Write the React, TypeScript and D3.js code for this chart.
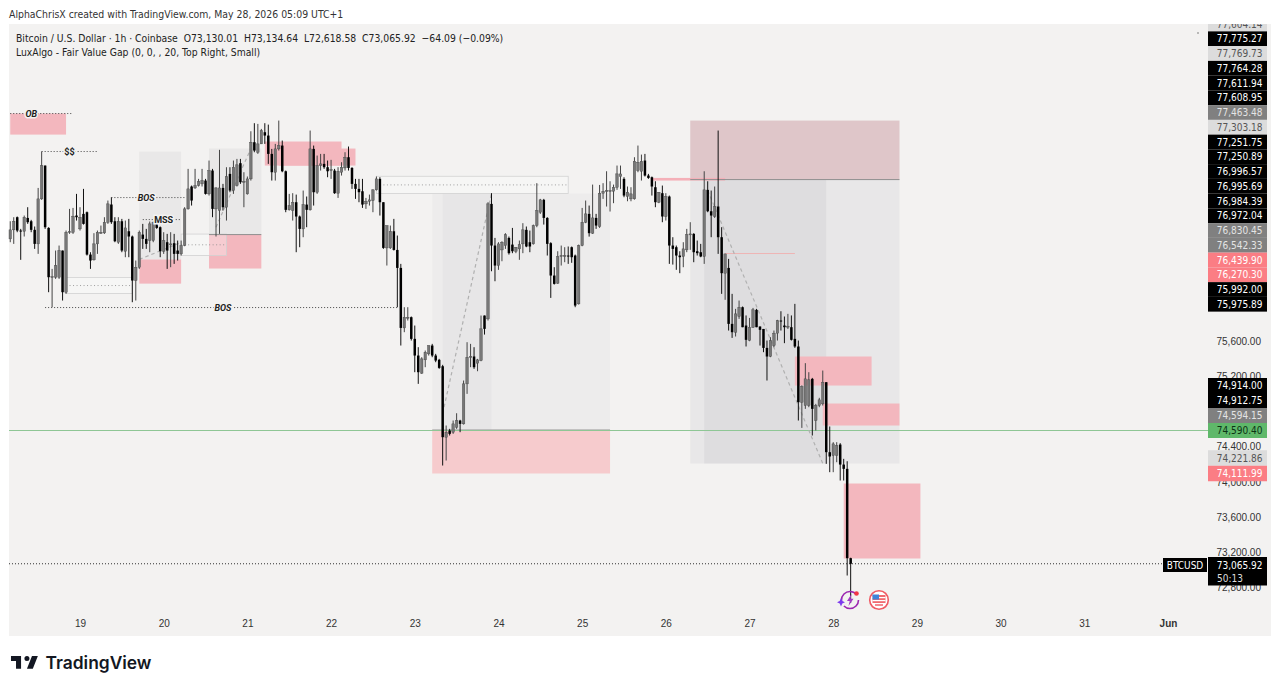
import * as d3 from 'd3'
import { useEffect, useRef } from 'react'

// hourly BTCUSD candles, first bar May 18 04:00
const opens = [
  76770,76873,77017,76865,76857,77009,76971,76873,76713,77226,
  77606,76895,76333,76333,76333,76637,76162,76846,76846,77036,
  76884,77055,77074,76591,76531,76713,76838,76838,76960,77162,
  76971,76732,76971,76629,76857,76797,76295,76447,76819,76770,
  76751,76751,76968,76903,76629,76732,76705,76721,76637,76599,
  76694,77112,77367,77351,77378,77397,77435,77283,77549,77112,
  77093,77351,77131,77511,77321,77378,77633,77416,77283,77454,
  77872,77758,77853,77986,77948,77739,77530,77796,77834,77541,
  77101,77093,77188,77025,76884,77161,77101,77796,77302,77606,
  77625,77587,77549,77549,77291,77530,77579,77701,77579,77397,
  77340,77313,77169,77199,77207,77329,77454,77188,76667,76667,
  76857,76644,76439,75755,75869,75877,75630,75440,75239,75391,
  75459,75554,75440,75391,75318,74509,74585,74566,74623,74699,
  74661,75117,75421,75429,75353,75383,75896,75858,77169,76694,
  76466,76644,76694,76781,76705,76629,76656,76713,76873,76732,
  76713,76922,77074,77215,77009,76721,76352,76265,76569,76569,
  76580,76675,76580,76029,76694,76960,77055,76835,77009,76911,
  77291,77313,77313,77313,77359,77481,77454,77253,77226,77226,
  77549,77541,77663,77492,77473,77359,77188,77291,77025,77253,
  76694,76675,76580,76569,76645,76819,76827,76629,76618,76569,
  77329,77085,77025,77139,76789,76379,76439,75801,75706,75885,
  75991,75782,75611,75763,75961,75771,75743,75527,75429,75554,
  75695,75839,75782,75771,75763,75630,75543,74908,74870,74870,
  75174,74699,74870,74889,75136,74338,74300,74300,74425,74197,
  74148,73130.01,
]
const highs = [
  76971,77017,77025,76884,77036,77131,76987,76911,77351,77766,
  77606,76903,76428,76637,76694,76637,76865,77112,77123,77283,
  77131,77340,77082,76618,76835,76865,76922,77017,77207,77245,
  77017,77017,76998,76979,76998,76808,76523,76865,76941,76884,
  76968,76968,77036,76911,76846,76827,76846,76827,76751,76751,
  77131,77568,77378,77568,77454,77568,77454,77663,77568,77359,
  77785,77397,77587,77587,77663,77682,77682,77530,77481,77997,
  78089,78081,78024,78089,78073,77796,77853,78119,77891,77549,
  77283,77291,77275,77036,77321,77253,78005,77834,77720,77739,
  77739,77663,77671,77568,77587,77644,77758,77823,77587,77454,
  77454,77454,77237,77275,77336,77481,77473,77188,76922,76922,
  76998,76808,76485,75991,75991,75885,75782,75535,75421,75497,
  75554,75573,75459,75402,75334,74642,74604,74699,74782,74707,
  75155,75592,75573,75535,75402,75896,75896,77188,77291,76781,
  76732,76743,76835,76797,76895,76675,76751,76949,76911,76865,
  76933,77405,77226,77226,77017,76732,76447,76629,76694,76675,
  76683,76683,76591,76705,77123,77207,77150,77389,77055,77385,
  77405,77541,77427,77389,77606,77606,77473,77367,77359,77701,
  77834,77731,77739,77511,77481,77427,77302,77378,77291,77264,
  76789,76694,76629,76732,76884,76960,76835,76751,76713,77541,
  77427,77321,77367,78005,76903,76599,76542,76143,75972,76067,
  75999,75897,75869,75983,75972,75771,75743,75611,75649,75725,
  75847,75945,75885,75915,75897,76029,75611,75100,75353,75250,
  75185,74889,74958,75269,75136,74631,74452,74452,74441,74262,
  74235,73134.64,
]
const lows = [
  76732,76713,76846,76531,76797,76941,76846,76656,76599,77215,
  76884,76162,75991,76314,76314,76067,76143,76827,76827,76979,
  76865,76933,76580,76428,76523,76599,76827,76827,76941,76941,
  76732,76713,76618,76561,76561,76048,76067,76428,76656,76656,
  76618,76732,76884,76561,76599,76428,76447,76485,76523,76580,
  76686,77104,77150,77340,77367,77367,77275,77264,77017,76797,
  76827,77093,76979,77302,77283,77367,77397,77131,77275,77435,
  77758,77739,77853,77853,77625,77435,77435,77777,77530,77074,
  77093,76979,76618,76675,76789,76903,77093,77150,77283,77549,
  77568,77473,77454,77283,77237,77492,77549,77549,77340,77226,
  77188,77123,77112,77150,77074,77321,77036,76656,76466,76656,
  76637,75991,75554,75706,75839,75611,75250,75117,75231,75307,
  75440,75421,75364,75288,74186,74243,74528,74547,74604,74566,
  74653,75003,75307,75288,75261,75375,75679,75839,76401,76287,
  76417,76515,76656,76591,76607,76607,76531,76607,76675,76618,
  76705,76903,77055,76933,76580,76097,76249,76257,76466,76504,
  76485,76497,75991,76021,76686,76949,76796,76827,76884,76895,
  77226,77139,77082,77177,77329,77340,77245,77199,77199,77218,
  77530,77435,77481,77454,77264,77131,77177,76960,76979,76485,
  76477,76417,76379,76447,76618,76645,76504,76580,76561,76485,
  77074,76789,77009,76599,76143,76075,75725,75641,75657,75858,
  75763,75543,75603,75755,75763,75554,75478,75155,75421,75535,
  75611,75725,75581,75743,75611,75527,74699,74615,74832,74851,
  74528,74585,74851,74870,74205,74110,74110,74224,74015,74015,
  72932,72618.58,
]
const closes = [
  76873,76971,76865,76857,77017,76960,76873,76713,77226,77606,
  76903,76333,76340,76466,76637,76162,76846,76854,77029,77017,
  77017,76941,76591,76523,76713,76846,76846,76960,77169,76960,
  76743,76971,76637,76895,76797,76295,76447,76846,76770,76713,
  76941,76960,76895,76629,76751,76637,76713,76599,76599,76694,
  77112,77340,77207,77378,77424,77435,77283,77549,77112,77351,
  77351,77131,77481,77321,77587,77614,77416,77427,77454,77872,
  77777,77853,78005,77948,77739,77530,77796,77834,77541,77101,
  77150,77188,77025,76884,77161,77101,77796,77302,77606,77625,
  77587,77541,77560,77291,77541,77587,77701,77579,77397,77340,
  77302,77161,77199,77215,77329,77454,77188,76667,76922,76857,
  76644,76439,75755,75877,75877,75630,75440,75250,75402,75478,
  75554,75440,75383,75299,74509,74566,74547,74661,74699,74661,
  75117,75421,75429,75307,75391,75744,75744,77169,76694,76466,
  76713,76732,76819,76607,76629,76675,76705,76873,76683,76683,
  76922,77093,77215,77009,76713,76352,76257,76569,76580,76580,
  76569,76561,76010,76694,76960,77055,76835,77009,76922,77291,
  77313,77321,77321,77359,77511,77511,77264,77302,77283,77655,
  77644,77655,77492,77465,77367,77188,77302,77025,77253,76694,
  76656,76580,76561,76656,76819,76827,76618,76607,76569,77329,
  77085,77036,77139,76789,76379,76599,75801,75706,75915,75991,
  75763,75619,75763,75961,75763,75733,75527,75429,75611,75695,
  75839,75830,75763,75775,75619,75543,74908,75087,75174,75163,
  74832,74870,74935,75136,74338,74289,74433,74414,74197,74148,
  73130,73065.92,
]

// drawings, all as [start hour, end hour, top price, bottom price], hours counted from May 19 00:00
const pinkZones = [
  [-20, -3.7, 78199, 77959],
  [17.2, 29.2, 76535, 76260],
  [37, 52, 76819, 76432],
  [53, 75.4, 77880, 77606],
  [57.4, 79.2, 77800, 77606],
  [205.6, 227.4, 75429, 75098],
  [213, 235, 74893, 74642],
  [219.4, 241.3, 73981, 73126],
]
const fadedPinkZones = [[101, 152.3, 74585, 74095]]
const thinPinkZones = [[164, 185.5, 77465, 77435]]
const targetZones = [[175, 235, 78119, 77446]]
const leftGreyZones = [
  [17.2, 29.2, 77765, 76535],
  [37, 52, 77800, 76819],
]
const wideGreyZones = [
  [101, 118.1, 77287, 74585],
  [104.2, 152.3, 77287, 74585],
]
const rightGreyZones = [
  [175, 214.2, 77446, 74209],
  [179, 235, 77446, 74209],
]
const outlineBoxes = [
  [-3.7, 15.2, 76329, 76147],
  [29.2, 42.4, 76825, 76580],
  [85, 140, 77484, 77287],
]
const trendLines = [
  [104.7, 74779, 118.1, 77287],
  [180.1, 77321, 213.6, 74209],
  [17.8, 76536, 29.2, 76730],
  [39.3, 76903, 49.3, 77800],
]
const solidLevels = [
  [175, 235, 77446],
  [37, 52, 76819],
  [101, 152.3, 74590.4],
]
const pinkLevels = [[185.5, 205.6, 76603]]
const dottedLevels = [
  [-20, -1.7, 78199],
  [-10.9, 5.4, 77766],
  [9.2, 30.4, 77241],
  [18, 29.6, 76990],
  [-10, 91.2, 75987],
]
const swingLabels = ['OB', '$$', 'BOS', 'MSS', 'BOS']
const swingLabelHours = [-13.5, -2.6, 19.5, 24, 41.6]
const swingLabelPrices = [78199, 77766, 77241, 76990, 75987]
const swingLabelItalic = [true, false, true, false, true]

const priceTicks = [75600, 75200, 74400, 74000, 73600, 73200, 72800]
const dayTicks = [19, 20, 21, 22, 23, 24, 25, 26, 27, 28, 29, 30, 31, 32]

const upperTags = [
  ['77,604.14', 'light'], ['77,775.27', 'black'], ['77,769.73', 'light'], ['77,764.28', 'black'],
  ['77,611.94', 'black'], ['77,608.95', 'black'], ['77,463.48', 'gray'], ['77,303.18', 'light'],
  ['77,251.75', 'black'], ['77,250.89', 'black'], ['76,996.57', 'black'], ['76,995.69', 'black'],
  ['76,984.39', 'black'], ['76,972.04', 'black'], ['76,830.45', 'gray'], ['76,542.33', 'gray'],
  ['76,439.90', 'pink'], ['76,270.30', 'pink'], ['75,992.00', 'black'], ['75,975.89', 'black'],
]
const middleTags = [
  ['74,914.00', 'black'], ['74,912.75', 'black'], ['74,594.15', 'gray'], ['74,590.40', 'green'],
]
const lowerTags = [
  ['74,221.86', 'light'], ['74,111.99', 'pink'],
]
const lastPrice = 73065.92

const tagColors = {
  black: ['#000000', '#ffffff'],
  gray: ['#808080', '#e4e4e4'],
  light: ['#dcdcdc', '#555555'],
  pink: ['#fb7d84', '#ffffff'],
  green: ['#5fb86a', '#0c3315'],
}

const WIDTH = 1280
const HEIGHT = 689
const uiFont = '"DejaVu Sans", sans-serif'

const x = d3.scaleTime(
  [new Date(2026, 4, 19), new Date(2026, 5, 1)],
  [80, 1168]
)
const y = d3.scaleLinear([73200, 75600], [552, 341.5])
const hx = (h: number) => x(d3.timeHour.offset(new Date(2026, 4, 19), h))

function Zones({ list, fill }: { list: number[][]; fill: string }) {
  return (
    <g fill={fill}>
      {list.map(([a, b, top, bottom], i) => (
        <rect key={i} x={hx(a)} y={y(top)} width={hx(b) - hx(a)} height={y(bottom) - y(top)} />
      ))}
    </g>
  )
}

function TagStack({ tags, start, step }: { tags: string[][]; start: number; step: number }) {
  return (
    <g>
      {tags.map(([label, kind], i) => {
        const [bg, fg] = tagColors[kind]
        const cy = start + i * step
        return (
          <g key={label}>
            <rect x={1208} y={cy - step / 2} width={59} height={step} fill={bg} />
            <text x={1262.5} y={cy + 3.7} fill={fg} textAnchor="end">{label}</text>
          </g>
        )
      })}
    </g>
  )
}

export default function App() {
  const gx = useRef<SVGGElement>(null)
  const gy = useRef<SVGGElement>(null)

  useEffect(() => {
    const xAxis = d3
      .axisBottom(x)
      .tickValues(dayTicks.map((d) => new Date(2026, 4, d)))
      .tickSize(0)
      .tickFormat((d: Date) => (d.getMonth() === 5 ? 'Jun' : String(d.getDate())))
    d3.select(gx.current).call(xAxis).call((g) => g.select('.domain').remove())
    d3.select(gx.current)
      .selectAll('text')
      .attr('fill', '#333')
      .attr('font-weight', (_, i) => (i === dayTicks.length - 1 ? 600 : 400))

    const yAxis = d3
      .axisRight(y)
      .tickValues(priceTicks)
      .tickSize(0)
      .tickFormat((d: number) => d3.format(',.2f')(d))
    d3.select(gy.current).call(yAxis).call((g) => g.select('.domain').remove())
    d3.select(gy.current).selectAll('text').attr('fill', '#333')
  }, [])

  return (
    <svg
      width={WIDTH}
      height={HEIGHT}
      style={{ position: 'absolute', left: 0, top: 0, display: 'block', background: '#fff' }}
      fontFamily={uiFont}
      fontStretch="condensed"
    >
      <defs>
        <clipPath id="pane">
          <rect x={9} y={24} width={1262} height={612} />
        </clipPath>
      </defs>
      <rect x={9} y={24} width={1262} height={612} fill="#f3f2f1" />

      <text x={9} y={17.5} fontSize={10.4} fill="#333">
        AlphaChrisX created with TradingView.com, May 28, 2026 05:09 UTC+1
      </text>
      <text x={16} y={41.5} fontSize={10.3} fill="#222" xmlSpace="preserve">
        {'Bitcoin / U.S. Dollar · 1h · Coinbase  O73,130.01  H73,134.64  L72,618.58  C73,065.92  −64.09 (−0.09%)'}
      </text>
      <text x={16} y={56} fontSize={10.3} fill="#222">
        LuxAlgo - Fair Value Gap (0, 0, , 20, Top Right, Small)
      </text>

      <Zones list={leftGreyZones} fill="rgba(110,110,120,0.07)" />
      <Zones list={wideGreyZones} fill="rgba(110,110,120,0.04)" />
      <Zones list={rightGreyZones} fill="rgba(100,100,110,0.07)" />
      <Zones list={fadedPinkZones} fill="#f6cbcd" />
      <Zones list={pinkZones} fill="#f3b7be" />
      <Zones list={targetZones} fill="#dfc6c9" />
      <Zones list={thinPinkZones} fill="#f4b0b8" />

      <g fill="rgba(255,255,255,0.3)" stroke="#d2d2d2" strokeWidth={0.8}>
        {outlineBoxes.map(([a, b, top, bottom], i) => (
          <g key={i}>
            <rect x={hx(a)} y={y(top)} width={hx(b) - hx(a)} height={y(bottom) - y(top)} />
            <line
              x1={hx(a)}
              x2={hx(b)}
              y1={y((top + bottom) / 2)}
              y2={y((top + bottom) / 2)}
              stroke="#888"
              strokeDasharray="1 2.5"
            />
          </g>
        ))}
      </g>

      <g stroke="#8f8f8f" strokeWidth={1}>
        {solidLevels.map(([a, b, p], i) => (
          <line key={i} x1={hx(a)} x2={hx(b)} y1={y(p)} y2={y(p)} />
        ))}
      </g>
      <g stroke="#eeb4b4" strokeWidth={1}>
        {pinkLevels.map(([a, b, p], i) => (
          <line key={i} x1={hx(a)} x2={hx(b)} y1={y(p)} y2={y(p)} />
        ))}
      </g>

      <line x1={9} x2={1208} y1={Math.round(y(74590.4)) + 0.5} y2={Math.round(y(74590.4)) + 0.5} stroke="#8ec695" strokeWidth={1} />
      <line
        x1={9}
        x2={1163}
        y1={y(lastPrice)}
        y2={y(lastPrice)}
        stroke="#333"
        strokeWidth={1}
        strokeDasharray="1 2"
      />

      <g stroke="#b0b0b0" strokeWidth={1.2} strokeDasharray="3.5 3">
        {trendLines.map(([h0, p0, h1, p1], i) => (
          <line key={i} x1={hx(h0)} y1={y(p0)} x2={hx(h1)} y2={y(p1)} />
        ))}
      </g>

      <g>
        {closes.map((c, i) => {
          const t = hx(i - 20)
          const o = opens[i]
          const up = c >= o
          const top = y(Math.max(o, c))
          const bottom = y(Math.min(o, c))
          return (
            <g key={i}>
              <line
                x1={t}
                x2={t}
                y1={y(highs[i])}
                y2={y(lows[i])}
                stroke={up ? '#444' : '#111'}
                strokeWidth={1}
              />
              <rect
                x={t - 1.25}
                y={top}
                width={2.5}
                height={Math.max(bottom - top, 1)}
                fill={up ? '#777' : '#000'}
                stroke={up ? '#444' : 'none'}
                strokeWidth={0.4}
              />
            </g>
          )
        })}
      </g>

      <g stroke="#444" strokeWidth={1} strokeDasharray="1 2">
        {dottedLevels.map(([a, b, p], i) => (
          <line key={i} x1={hx(a)} x2={hx(b)} y1={y(p)} y2={y(p)} />
        ))}
      </g>
      <g fontSize={9} fontWeight={700} fill="#222" textAnchor="middle" fontStretch="normal" fontFamily="Roboto, sans-serif">
        {swingLabels.map((t, i) => (
          <text
            key={i}
            x={hx(swingLabelHours[i])}
            y={y(swingLabelPrices[i]) + 3}
            fontStyle={swingLabelItalic[i] ? 'italic' : 'normal'}
            stroke="#f3f2f1"
            strokeWidth={3}
            paintOrder="stroke"
          >
            {t}
          </text>
        ))}
      </g>

      {/* event markers under the last bar */}
      <g transform="translate(850,600)">
        <circle r={8.5} fill="none" stroke="#9c27b0" strokeWidth={1.6} strokeDasharray="20 5 22 6" />
        <path d="M1.5,-6 L-3,1 L-0.3,1 L-1.5,6 L3.5,-1.2 L0.6,-1.2 Z" fill="#a23bc4" />
        <path d="M-9,-2 L-7.7,1 L-5,2.2 L-7.7,3.4 L-9,6.4 L-10.3,3.4 L-13,2.2 L-10.3,1 Z" fill="#7c3aed" />
        <circle cx={6.5} cy={-6.5} r={2.3} fill="#f23645" />
      </g>
      <g transform="translate(879,600)">
        <circle r={9.3} fill="#fff" stroke="#f05a63" strokeWidth={1.6} />
        <rect x={-6.5} y={-5} width={13} height={8} fill="#f06a70" />
        <rect x={-6.5} y={-3} width={13} height={1.2} fill="#fff" />
        <rect x={-6.5} y={0} width={13} height={1.2} fill="#fff" />
        <rect x={-6.5} y={-5.5} width={6.5} height={5} fill="#3f83d8" />
        <rect x={-4} y={4.3} width={8} height={1.4} fill="#f05a63" />
      </g>

      <g ref={gx} transform="translate(0,617)" fontSize={10.5} fontFamily={uiFont} />
      <g ref={gy} transform="translate(1213.5,0)" fontSize={10} fontFamily={uiFont} />

      <g fontSize={10} clipPath="url(#pane)">
        <TagStack tags={upperTags} start={24} step={14.75} />
        <TagStack tags={middleTags} start={385.5} step={15} />
        <TagStack tags={lowerTags} start={458} step={15.5} />

        <rect x={1208} y={557} width={59} height={28.5} fill="#000" />
        <text x={1262.5} y={568.5} fill="#fff" textAnchor="end">73,065.92</text>
        <text x={1217} y={581.5} fill="#ddd">50:13</text>
        <rect x={1163} y={558} width={44} height={14} fill="#000" />
        <text x={1185} y={568.5} fill="#fff" textAnchor="middle">BTCUSD</text>
      </g>

      <circle cx={1198} cy={33} r={0.7} fill="#555" />

      <g transform="translate(9.3,651) scale(0.84)" fill="#131722">
        <path d="M14 6H2v6h6v9h6V6zm14 15h-7l6-15h7l-6 15zm-7-9a3 3 0 1 0 0-6 3 3 0 0 0 0 6z" />
      </g>
      <text x={45.5} y={669} fontSize={17.4} fontWeight={600} fill="#131722" fontFamily="Inter, sans-serif" fontStretch="normal">
        TradingView
      </text>
    </svg>
  )
}
